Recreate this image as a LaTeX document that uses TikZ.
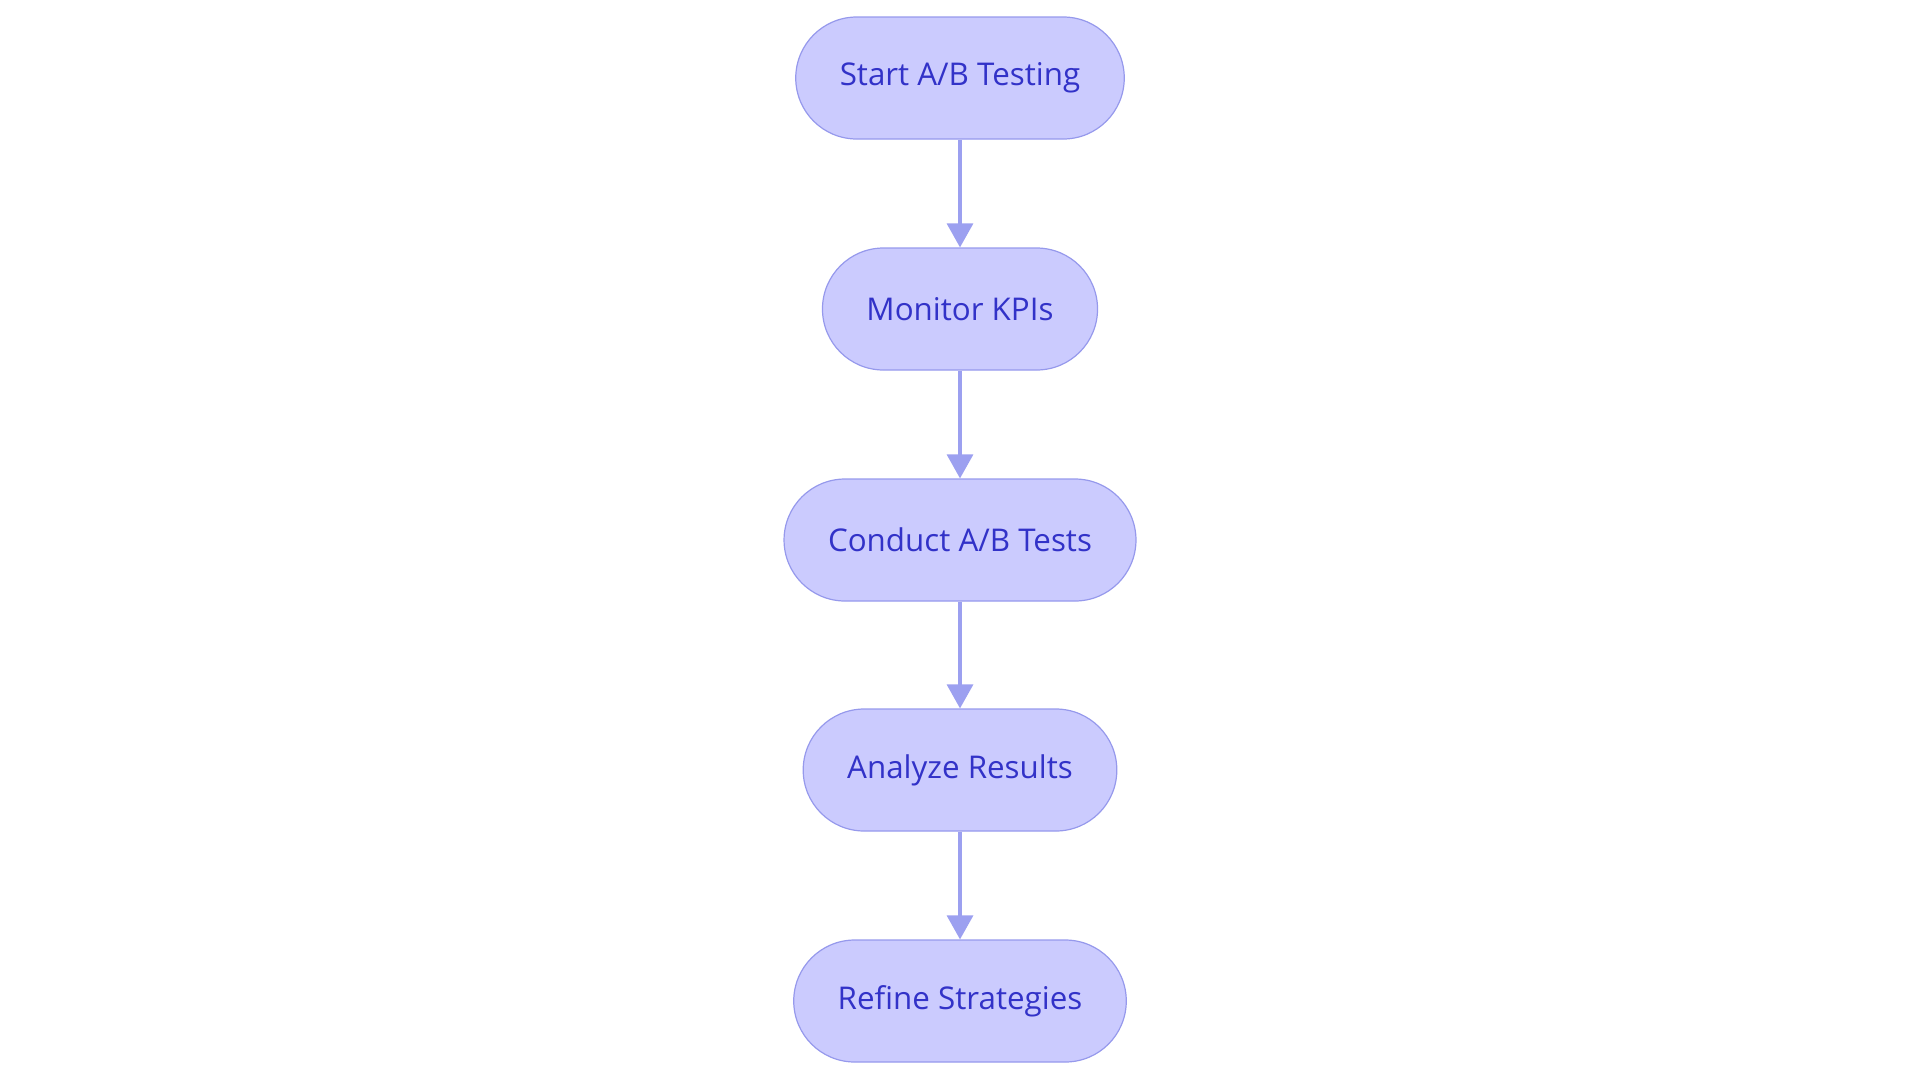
\documentclass[tikz,border=0pt]{standalone}
\usepackage{fontspec}
\setmainfont{Open Sans}
\usetikzlibrary{arrows.meta}

\definecolor{stepfill}{RGB}{203,203,254}
\definecolor{stepline}{RGB}{150,153,236}
\definecolor{steptext}{RGB}{50,50,200}
\definecolor{arrowline}{RGB}{156,160,240}

\begin{document}
\begin{tikzpicture}[x=0.75pt,y=0.75pt,yscale=-1,xscale=1,
  stepbox/.style={draw=stepline,fill=stepfill,line width=0.9pt,rounded corners=45.75pt,
    minimum height=91.5pt,inner xsep=33pt,text=steptext,font=\fontsize{23.5}{28}\selectfont},
  flow/.style={draw=arrowline,line width=2.4pt,-{Triangle[width=19.5pt,length=18pt]}}]
\useasboundingbox (0,0) rectangle (1920,1083);

% Text Node
\node [stepbox] (start) at (960,78) {Start A/B Testing};
% Text Node
\node [stepbox] (kpis) at (960,309) {Monitor KPIs};
% Text Node
\node [stepbox] (tests) at (960,540) {Conduct A/B Tests};
% Text Node
\node [stepbox] (results) at (960,770) {Analyze Results};
% Text Node
\node [stepbox] (refine) at (960,1001) {Refine Strategies};

%Straight Lines
\draw [flow] (start) -- (kpis);
\draw [flow] (kpis) -- (tests);
\draw [flow] (tests) -- (results);
\draw [flow] (results) -- (refine);

\end{tikzpicture}
\end{document}
